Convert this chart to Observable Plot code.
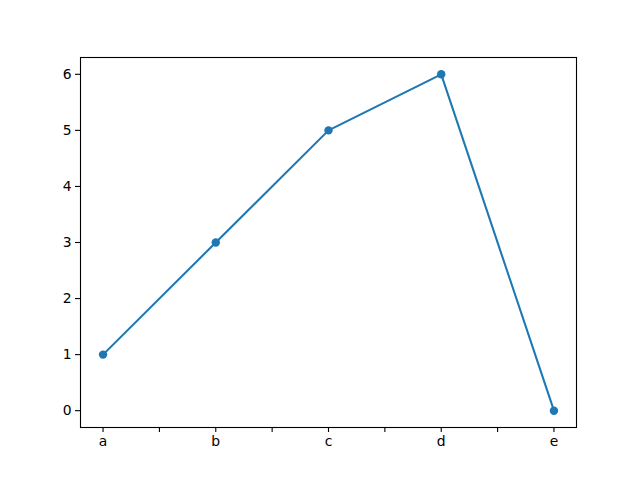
<!DOCTYPE html>
<html>
<head>
<meta charset="utf-8">
<script src="https://cdn.jsdelivr.net/npm/d3@7"></script>
<script src="https://cdn.jsdelivr.net/npm/@observablehq/plot@0.6"></script>
<style>
  html, body { margin: 0; padding: 0; background: white; }
</style>
</head>
<body>
<div id="chart"></div>
<script>
const categories = ["a", "b", "c", "d", "e"];
const values = [1, 3, 5, 6, 0];
const yTicks = [0, 1, 2, 3, 4, 5, 6];

const data = categories.map((c, i) => ({i, c, v: values[i]}));
const xTicks = d3.range(0, categories.length - 1 + 0.01, 0.5);

const chart = Plot.plot({
  width: 640,
  height: 480,
  marginLeft: 80,
  marginRight: 64,
  marginTop: 57,
  marginBottom: 53,
  style: {fontFamily: "DejaVu Sans", fontSize: "13.9px", color: "black", background: "white"},
  x: {domain: [-0.2, 4.2]},
  y: {domain: [-0.3, 6.3]},
  marks: [
    Plot.axisX({
      ticks: xTicks,
      tickFormat: d => Number.isInteger(d) ? categories[d] : "",
      tickSize: 5,
      tickPadding: 4,
      label: null,
      strokeWidth: 1.1
    }),
    Plot.axisY({
      ticks: yTicks,
      tickFormat: d => String(d),
      tickSize: 5,
      tickPadding: 4,
      label: null,
      strokeWidth: 1.1
    }),
    Plot.frame({stroke: "black", strokeWidth: 1.1}),
    Plot.line(data, {x: "i", y: "v", stroke: "#1f77b4", strokeWidth: 2.08}),
    Plot.dot(data, {x: "i", y: "v", fill: "#1f77b4", r: 4.2, stroke: "none"})
  ]
});
document.getElementById("chart").appendChild(chart);
</script>
</body>
</html>
